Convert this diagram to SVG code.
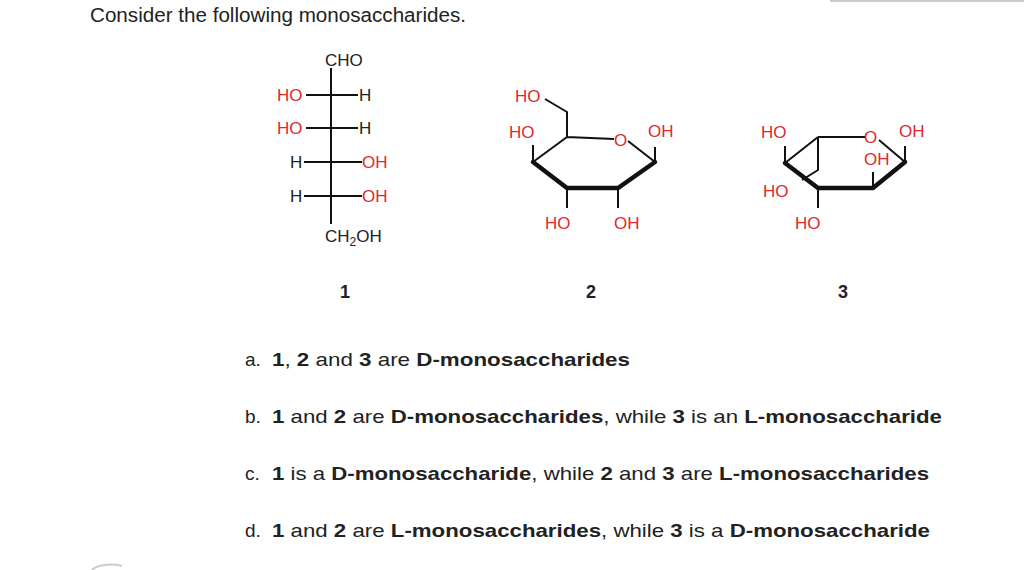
<svg xmlns="http://www.w3.org/2000/svg" width="1024" height="570" viewBox="0 0 1024 570">
<style>
text{font-family:"Liberation Sans",Arial,sans-serif;fill:#222}
.r{fill:#e0282c;font-size:17px}
.k{fill:#222;font-size:17px}
.ln{stroke:#111;stroke-width:2;fill:none;stroke-linejoin:round}
.bd{stroke:#111;stroke-width:4.5;fill:none;stroke-linecap:round}
.opt{font-size:19px}
</style>
<rect width="1024" height="570" fill="#fff"/>
<line x1="830" y1="1" x2="1024" y2="1" stroke="#ccc" stroke-width="2"/>
<path d="M92 570 A20 8 0 0 1 122 566" stroke="#ccc" stroke-width="2" fill="none"/>
<text x="90" y="22" font-size="20" textLength="376" lengthAdjust="spacingAndGlyphs">Consider the following monosaccharides.</text>

<g id="fischer">
<line class="ln" x1="331" y1="68" x2="331" y2="224"/>
<line class="ln" x1="306" y1="95" x2="358" y2="95"/>
<line class="ln" x1="306" y1="128" x2="358" y2="128"/>
<line class="ln" x1="304" y1="162" x2="362" y2="162"/>
<line class="ln" x1="304" y1="196" x2="362" y2="196"/>
<text class="k" x="325" y="66">CHO</text>
<text class="r" x="277" y="101">HO</text><text class="k" x="359" y="101">H</text>
<text class="r" x="277" y="134">HO</text><text class="k" x="359" y="134">H</text>
<text class="k" x="290" y="168">H</text><text class="r" x="362" y="168">OH</text>
<text class="k" x="290" y="202">H</text><text class="r" x="362" y="202">OH</text>
<text class="k" x="325" y="242">CH<tspan font-size="12" dy="4">2</tspan><tspan dy="-4">OH</tspan></text>
<text x="345" y="298" font-size="18" font-weight="bold" text-anchor="middle">1</text>
</g>

<g id="pyranose2">
<path class="ln" d="M545 99 L567 112 L567 137 L533 162 M567 137 L614 139 M628 141 L655 162 M533 162 L533 145 M655 162 L655 147 M567 188 L567 208 M618 188 L618 208"/>
<path class="bd" d="M533 162 L567 188 L618 188 L655 162"/>
<text class="r" x="515" y="102">HO</text>
<text class="r" x="509" y="138">HO</text>
<text class="r" x="614" y="146">O</text>
<text class="r" x="648" y="137">OH</text>
<text class="r" x="545" y="229">HO</text>
<text class="r" x="614" y="229">OH</text>
<text x="591" y="298" font-size="18" font-weight="bold" text-anchor="middle">2</text>
</g>

<g id="pyranose3">
<path class="ln" d="M818 137 L785 163 M818 137 L865 137 M879 140 L905 162 M818 137 L818 170 L802 180 M785 163 L785 146 M905 162 L905 146 M818 188 L818 208 M873 188 L873 172"/>
<path class="bd" d="M785 163 L818 188 L873 188 L905 162"/>
<text class="r" x="761" y="138">HO</text>
<text class="r" x="864" y="143">O</text>
<text class="r" x="899" y="137">OH</text>
<text class="r" x="864" y="165">OH</text>
<text class="r" x="763" y="197">HO</text>
<text class="r" x="795" y="229">HO</text>
<text x="843" y="298" font-size="18" font-weight="bold" text-anchor="middle">3</text>
</g>

<g id="options" class="opt">
<text x="245" y="366">a.</text>
<text x="272" y="366" textLength="358" lengthAdjust="spacingAndGlyphs"><tspan font-weight="bold">1</tspan>, <tspan font-weight="bold">2</tspan> and <tspan font-weight="bold">3</tspan> are <tspan font-weight="bold">D-monosaccharides</tspan></text>
<text x="245" y="423">b.</text>
<text x="272" y="423" textLength="670" lengthAdjust="spacingAndGlyphs"><tspan font-weight="bold">1</tspan> and <tspan font-weight="bold">2</tspan> are <tspan font-weight="bold">D-monosaccharides</tspan>, while <tspan font-weight="bold">3</tspan> is an <tspan font-weight="bold">L-monosaccharide</tspan></text>
<text x="245" y="480">c.</text>
<text x="272" y="480" textLength="657" lengthAdjust="spacingAndGlyphs"><tspan font-weight="bold">1</tspan> is a <tspan font-weight="bold">D-monosaccharide</tspan>, while <tspan font-weight="bold">2</tspan> and <tspan font-weight="bold">3</tspan> are <tspan font-weight="bold">L-monosaccharides</tspan></text>
<text x="245" y="537">d.</text>
<text x="272" y="537" textLength="658" lengthAdjust="spacingAndGlyphs"><tspan font-weight="bold">1</tspan> and <tspan font-weight="bold">2</tspan> are <tspan font-weight="bold">L-monosaccharides</tspan>, while <tspan font-weight="bold">3</tspan> is a <tspan font-weight="bold">D-monosaccharide</tspan></text>
</g>
</svg>
